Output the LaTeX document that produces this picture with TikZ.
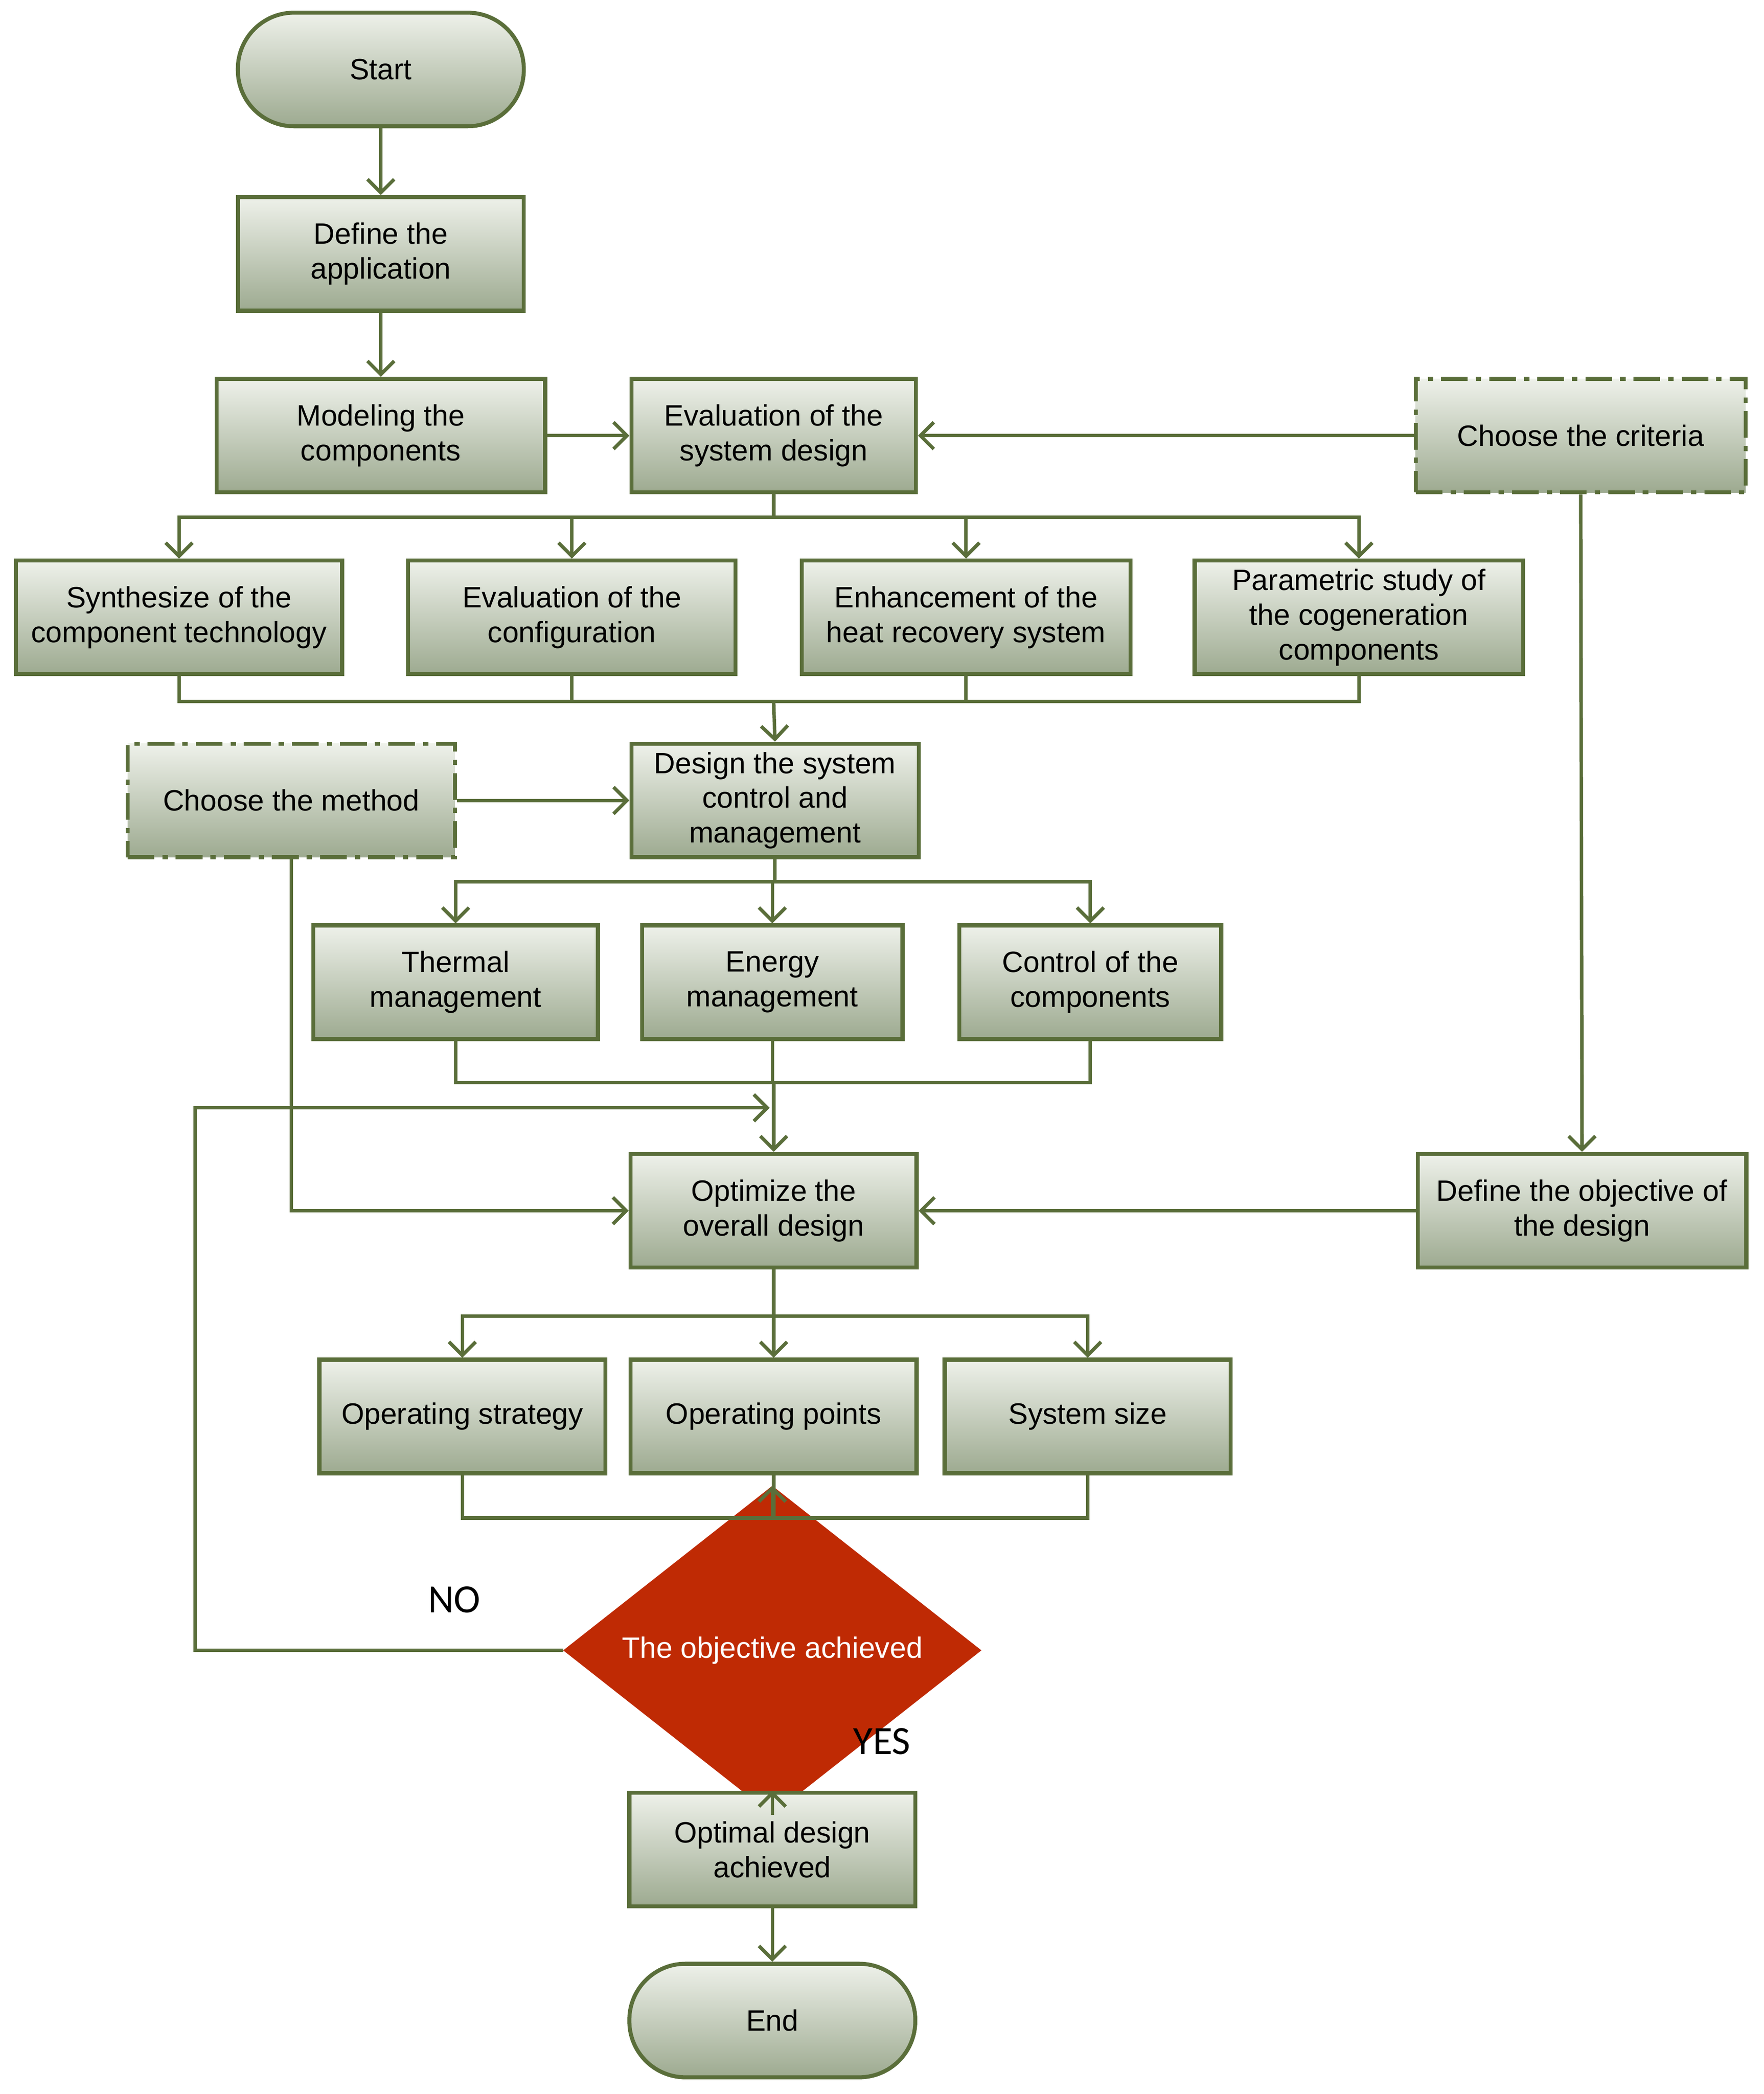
\documentclass[tikz,border=0pt]{standalone}
\usepackage{fontspec}
\setmainfont{Liberation Sans}
\newfontfamily\cali{Carlito}
\usetikzlibrary{shapes.geometric,arrows.meta}
\definecolor{ol}{HTML}{5A6E3A}
\definecolor{tp}{HTML}{EEF1EA}
\definecolor{bt}{HTML}{9DAA90}
\definecolor{rd}{HTML}{BF2A04}
\begin{document}
\begin{tikzpicture}[x=0.5pt,y=-0.5pt,
 every node/.style={font=\fontsize{11}{13}\selectfont,align=center},
 bx/.style={draw=ol,line width=1.5pt,top color=tp,bottom color=bt,minimum height=42.5pt,inner sep=1pt},
 dd/.style={bx,dash pattern=on 10pt off 3pt on 2pt off 3pt},
 term/.style={bx,rounded corners=21pt},
 ln/.style={draw=ol,line width=1.3pt},
 ar/.style={ln,-{Straight Barb[length=5pt,width=10pt]}}]
\useasboundingbox (0,0) rectangle (1320,1567);
\node[term,minimum width=107pt] (st) at (285,52) {Start};
\node[bx,minimum width=107pt] (def) at (285,190) {Define the\\application};
\node[bx,minimum width=123pt] (mod) at (285,326) {Modeling the\\components};
\node[bx,minimum width=106.5pt] (ev) at (579,326) {Evaluation of the\\system design};
\node[dd,minimum width=123.5pt] (cr) at (1183,326) {Choose the criteria};
\node[bx,minimum width=122pt] (syn) at (134,462) {Synthesize of the\\component technology};
\node[bx,minimum width=122.5pt] (evc) at (428,462) {Evaluation of the\\configuration};
\node[bx,minimum width=123pt] (enh) at (723,462) {Enhancement of the\\heat recovery system};
\node[bx,minimum width=123pt] (par) at (1017,462) {Parametric study of\\the cogeneration\\components};
\node[dd,minimum width=122.5pt] (cm) at (218,599) {Choose the method};
\node[bx,minimum width=107.5pt] (dsc) at (580,599) {Design the system\\control and\\management};
\node[bx,minimum width=106.5pt] (th) at (341,735) {Thermal\\management};
\node[bx,minimum width=97.5pt] (en) at (578,735) {Energy\\management};
\node[bx,minimum width=98pt] (cc) at (816,735) {Control of the\\components};
\node[bx,minimum width=107pt] (opt) at (579,906) {Optimize the\\overall design};
\node[bx,minimum width=123pt] (obj) at (1184,906) {Define the objective of\\the design};
\node[bx,minimum width=107pt] (os) at (346,1060) {Operating strategy};
\node[bx,minimum width=107pt] (op) at (579,1060) {Operating points};
\node[bx,minimum width=107pt] (ss) at (814,1060) {System size};
\node[diamond,draw=rd,fill=rd,text=white,minimum width=156pt,minimum height=64pt,inner sep=0pt] (dia) at (578,1235) {The objective achieved};
\node[bx,minimum width=107pt] (od) at (578,1384) {Optimal design\\achieved};
\node[term,minimum width=107pt] (end) at (578,1512) {End};
\node[font=\cali\fontsize{15}{17}\selectfont] (no) at (340,1197) {NO};
\node[font=\cali\fontsize{15}{17}\selectfont] (yes) at (660,1303) {YES};
\draw[ar] (st) -- (def);
\draw[ar] (def) -- (mod);
\draw[ar] (mod) -- (ev);
\draw[ar] (cr) -- (ev);
\coordinate (b1) at (579,387);
\draw[ln] (ev.south) -- (b1);
\foreach \n in {syn,evc,enh,par} \draw[ar] (b1) -| (\n.north);
\coordinate (b2) at (579,525);
\foreach \n in {syn,evc,enh,par} \draw[ln] (\n.south) |- (b2);
\draw[ar] (b2) -- (dsc.north);
\draw[ar] (cm) -- (dsc);
\coordinate (b3) at (580,660);
\draw[ln] (dsc.south) -- (b3);
\foreach \n in {th,en,cc} \draw[ar] (b3) -| (\n.north);
\coordinate (b4) at (579,810);
\foreach \n in {th,en,cc} \draw[ln] (\n.south) |- (b4);
\draw[ar] (b4) -- (opt.north);
\draw[ar] (cm.south) |- (opt.west);
\draw[ar] (cr.south) -- (obj.north);
\draw[ar] (obj) -- (opt);
\coordinate (lp) at (576,829);
\draw[ar] (dia.west) -| (146,829) -- (lp);
\coordinate (b5) at (579,985);
\draw[ln] (opt.south) -- (b5);
\foreach \n in {os,op,ss} \draw[ar] (b5) -| (\n.north);
\coordinate (b6) at (578,1136);
\foreach \n in {os,op,ss} \draw[ln] (\n.south) |- (b6);
\draw[ar] (b6) -- (dia.north);
\draw[ar] (dia.south) -- (od);
\draw[ar] (od) -- (end);
\end{tikzpicture}
\end{document}
